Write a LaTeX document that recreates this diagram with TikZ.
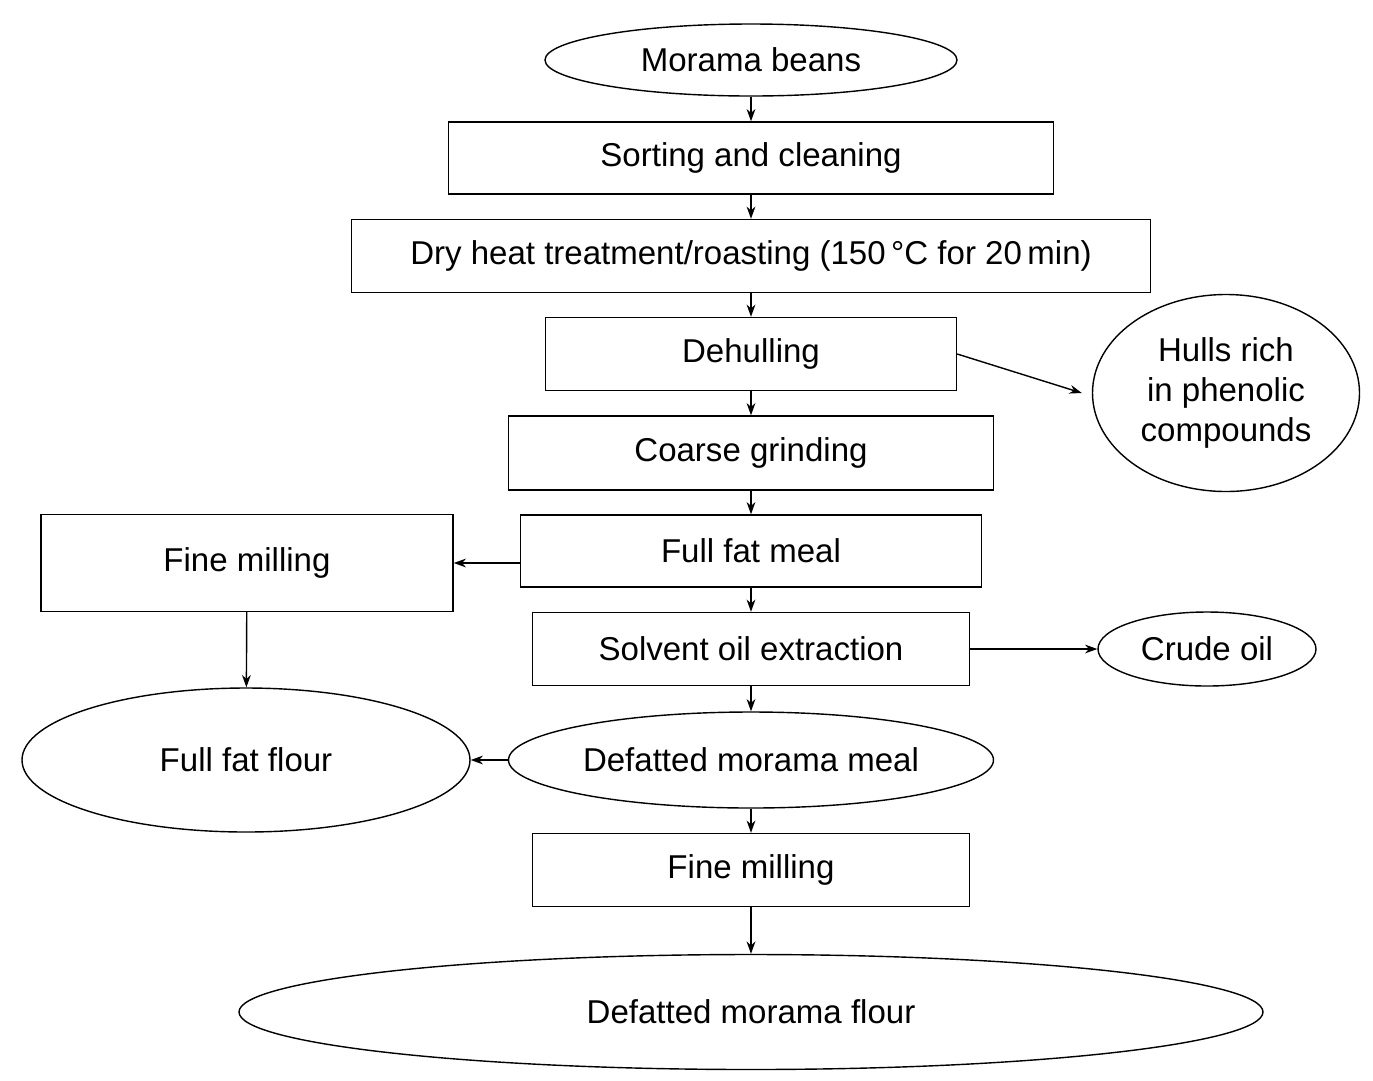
\documentclass[tikz,border=0pt]{standalone}
\usepackage{fontspec}
\setmainfont{Liberation Sans}
\usetikzlibrary{shapes.geometric, arrows.meta}
\begin{document}
\begin{tikzpicture}[x=0.02cm, y=-0.02cm, line width=0.8pt,
  font=\fontsize{18.8}{23}\selectfont,
  box/.style 2 args={draw, rectangle, inner sep=0pt, minimum width=#1*0.02cm, minimum height=#2*0.02cm},
  oval/.style 2 args={draw, ellipse, inner sep=0pt, minimum width=#1*0.02cm, minimum height=#2*0.02cm, align=center},
  arr/.style={-{Stealth[length=7pt, width=5pt]}}]
\useasboundingbox (0,0) rectangle (1373,1080);

% main column
\node[oval={412}{72}] (beans) at (751,60) {Morama beans};
\node[box={605}{72}] (sort) at (751,158) {Sorting and cleaning};
\node[box={799}{73}] (heat) at (751,256) {Dry heat treatment/roasting (150\,°C for 20\,min)};
\node[box={411}{73}] (dehull) at (751,354) {Dehulling};
\node[box={485}{74}] (coarse) at (751,453) {Coarse grinding};
\node[box={461}{72}] (meal) at (751,551) {Full fat meal};
\node[box={437}{73}] (solvent) at (751,649) {Solvent oil extraction};
\node[oval={485}{96}] (dmeal) at (751,760) {Defatted morama meal};
\node[box={437}{73}] (fine) at (751,870) {Fine milling};
\node[oval={1024}{115}] (dflour) at (751,1012) {Defatted morama flour};

% side branches
\node[oval={267}{197}] (hulls) at (1226,393) {Hulls rich\\in phenolic\\compounds};
\node[oval={218}{74}] (oil) at (1207,649) {Crude oil};
\node[box={412}{97}] (fineL) at (247,563) {Fine milling};
\node[oval={448}{144}] (ffflour) at (246,760) {Full fat flour};

% connectors
\draw[arr] (beans) -- (sort);
\draw[arr] (sort) -- (heat);
\draw[arr] (heat) -- (dehull);
\draw[arr] (dehull) -- (coarse);
\draw[arr] (coarse) -- (meal);
\draw[arr] (meal) -- (solvent);
\draw[arr] (solvent) -- (dmeal);
\draw[arr] (dmeal) -- (fine);
\draw[arr, line width=1.4pt] (fine) -- (dflour);
\draw[arr] (dehull.east) -- ([xshift=-10*0.02cm]hulls.west);
\draw[arr] (solvent.east) -- (oil.west);
\draw[arr] (meal.west |- 0,563) -- (fineL.east |- 0,563);
\draw[arr] (fineL) -- (ffflour);
\draw[arr] (dmeal.west) -- (ffflour.east);
\end{tikzpicture}
\end{document}
